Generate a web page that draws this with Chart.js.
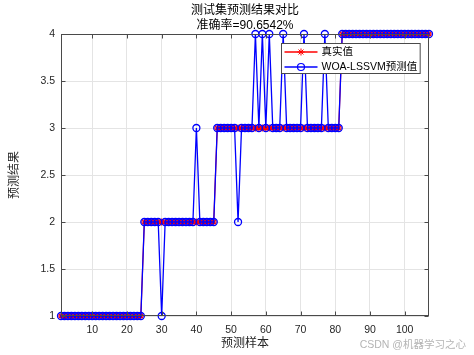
<!DOCTYPE html>
<html><head><meta charset="utf-8">
<script src="https://cdn.jsdelivr.net/npm/chart.js@4.4.1/dist/chart.umd.min.js"></script>
<style>html,body{margin:0;padding:0;background:#fff;}canvas{display:block;}</style>
</head><body>
<canvas id="c" width="474" height="355"></canvas>
<script>
const samples = [1,2,3,4,5,6,7,8,9,10,11,12,13,14,15,16,17,18,19,20,
  21,22,23,24,25,26,27,28,29,30,31,32,33,34,35,36,37,38,39,40,
  41,42,43,44,45,46,47,48,49,50,51,52,53,54,55,56,57,58,59,60,
  61,62,63,64,65,66,67,68,69,70,71,72,73,74,75,76,77,78,79,80,
  81,82,83,84,85,86,87,88,89,90,91,92,93,94,95,96,97,98,99,100,
  101,102,103,104,105,106,107];
const trueValues = [1,1,1,1,1,1,1,1,1,1,
  1,1,1,1,1,1,1,1,1,1,
  1,1,1,1,2,2,2,2,2,2,
  2,2,2,2,2,2,2,2,2,2,
  2,2,2,2,2,3,3,3,3,3,
  3,3,3,3,3,3,3,3,3,3,
  3,3,3,3,3,3,3,3,3,3,
  3,3,3,3,3,3,3,3,3,3,
  3,4,4,4,4,4,4,4,4,4,
  4,4,4,4,4,4,4,4,4,4,
  4,4,4,4,4,4,4];
const predValues = [1,1,1,1,1,1,1,1,1,1,
  1,1,1,1,1,1,1,1,1,1,
  1,1,1,1,2,2,2,2,2,1,
  2,2,2,2,2,2,2,2,2,3,
  2,2,2,2,2,3,3,3,3,3,
  3,2,3,3,3,3,4,3,4,3,
  4,3,3,3,4,3,3,3,3,3,
  4,3,3,3,3,3,4,3,3,3,
  3,4,4,4,4,4,4,4,4,4,
  4,4,4,4,4,4,4,4,4,4,
  4,4,4,4,4,4,4];
const xTicks = [10,20,30,40,50,60,70,80,90,100];
const yTicks = [1,1.5,2,2.5,3,3.5,4];
const yTickLabels = ['1','1.5','2','2.5','3','3.5','4'];
const titleLines = ['测试集预测结果对比', '准确率=90.6542%'];
const seriesNames = ['真实值', 'WOA-LSSVM预测值'];
const xLabel = '预测样本';
const yLabel = '预测结果';
const watermark = 'CSDN @机器学习之心';

const FONT = '"Liberation Sans", Arial, "Noto Sans CJK SC", sans-serif';
const RED = '#ff0000', BLUE = '#0000ff', AX = '#262626';

function drawStar(ctx, x, y, r) {
  ctx.beginPath();
  for (let k = 0; k < 4; k++) {
    const ang = k * Math.PI / 4;
    ctx.moveTo(x - r * Math.cos(ang), y - r * Math.sin(ang));
    ctx.lineTo(x + r * Math.cos(ang), y + r * Math.sin(ang));
  }
  ctx.stroke();
}

const deco = {
  id: 'deco',
  afterDraw(chart) {
    const ctx = chart.ctx, a = chart.chartArea, xs = chart.scales.x, ys = chart.scales.y;
    ctx.save();
    ctx.strokeStyle = '#4a4a4a'; ctx.lineWidth = 1;
    const L = Math.round(a.left) + 0.5, R = Math.round(a.right) - 0.5,
          T = Math.round(a.top) + 0.5, B = Math.round(a.bottom) - 0.5;
    ctx.strokeRect(L, T, R - L, B - T);
    ctx.beginPath();
    xTicks.forEach(v => {
      const p = Math.round(xs.getPixelForValue(v)) + 0.5;
      ctx.moveTo(p, B); ctx.lineTo(p, B - 4);
      ctx.moveTo(p, T); ctx.lineTo(p, T + 4);
    });
    yTicks.forEach(v => {
      const p = Math.round(ys.getPixelForValue(v)) + 0.5;
      ctx.moveTo(L, p); ctx.lineTo(L + 4, p);
      ctx.moveTo(R, p); ctx.lineTo(R - 4, p);
    });
    ctx.stroke();

    const cx = (a.left + a.right) / 2;
    ctx.fillStyle = '#000';
    ctx.textAlign = 'center'; ctx.textBaseline = 'middle';
    ctx.font = '12px ' + FONT;
    ctx.fillText(titleLines[0], cx, 11);
    ctx.fillText(titleLines[1], cx, 26);

    ctx.fillStyle = AX;
    ctx.font = '12px ' + FONT;
    ctx.fillText(xLabel, cx, 344);
    ctx.save();
    ctx.translate(15, (a.top + a.bottom) / 2);
    ctx.rotate(-Math.PI / 2);
    ctx.fillText(yLabel, 0, 0);
    ctx.restore();

    ctx.font = '10.5px ' + FONT;
    const tw = Math.max(...seriesNames.map(s => ctx.measureText(s).width));
    const bw = 3 + 33 + 4 + tw + 3, bh = 30;
    const bx = Math.round(a.right - 9 - bw) + 0.5, by = Math.round(a.top + 9) + 0.5;
    ctx.fillStyle = '#fff';
    ctx.fillRect(bx, by, bw, bh);
    ctx.strokeStyle = '#4a4a4a'; ctx.lineWidth = 1;
    ctx.strokeRect(bx, by, bw, bh);
    const rows = [by + 8.5, by + 23.5];
    const cols = [RED, BLUE];
    rows.forEach((ry, i) => {
      ctx.strokeStyle = cols[i]; ctx.lineWidth = 1.3;
      ctx.beginPath(); ctx.moveTo(bx + 3, ry); ctx.lineTo(bx + 36, ry); ctx.stroke();
      const mx = bx + 19.5;
      if (i === 0) { ctx.lineWidth = 1; drawStar(ctx, mx, ry, 3.5); }
      else { ctx.lineWidth = 1.2; ctx.beginPath(); ctx.arc(mx, ry, 3.5, 0, Math.PI * 2); ctx.stroke(); }
      ctx.fillStyle = '#000'; ctx.textAlign = 'left'; ctx.textBaseline = 'middle';
      ctx.fillText(seriesNames[i], bx + 40, ry);
    });

    ctx.font = '10.5px ' + FONT;
    ctx.fillStyle = '#b4b4b4'; ctx.textAlign = 'right';
    ctx.fillText(watermark, 466, 345);
    ctx.restore();
  }
};

new Chart(document.getElementById('c'), {
  type: 'line',
  data: {
    datasets: [
      {
        label: seriesNames[0],
        data: samples.map((s, i) => ({ x: s, y: trueValues[i] })),
        borderColor: RED, backgroundColor: RED, borderWidth: 1.2,
        pointStyle: 'star', pointRadius: 3.5, pointBorderColor: RED,
        pointBackgroundColor: RED, pointBorderWidth: 1.1, tension: 0, order: 2, clip: false
      },
      {
        label: seriesNames[1],
        data: samples.map((s, i) => ({ x: s, y: predValues[i] })),
        borderColor: BLUE, backgroundColor: 'rgba(0,0,0,0)', borderWidth: 1.3,
        pointStyle: 'circle', pointRadius: 3.5, pointBorderColor: BLUE,
        pointBackgroundColor: 'rgba(0,0,0,0)', pointBorderWidth: 1.3, tension: 0, order: 1, clip: false
      }
    ]
  },
  options: {
    responsive: false, animation: false, events: [],
    layout: { padding: { top: 34, right: 45, left: 0, bottom: 0 } },
    plugins: { legend: { display: false }, title: { display: false }, tooltip: { enabled: false } },
    scales: {
      x: {
        type: 'linear', min: 1, max: 107,
        afterBuildTicks: s => { s.ticks = xTicks.map(v => ({ value: v })); },
        afterFit: s => { s.height = 39; },
        grid: { color: '#e4e4e4', drawTicks: false },
        border: { display: false },
        ticks: { padding: 8, color: AX, font: { family: FONT, size: 10.5 }, maxRotation: 0, autoSkip: false,
                 callback: v => String(v) }
      },
      y: {
        type: 'linear', min: 1, max: 4,
        afterBuildTicks: s => { s.ticks = yTicks.map(v => ({ value: v })); },
        afterFit: s => { s.width = 61; },
        grid: { color: '#e4e4e4', drawTicks: false },
        border: { display: false },
        ticks: { padding: 6, color: AX, font: { family: FONT, size: 10.5 }, autoSkip: false,
                 callback: (v) => yTickLabels[yTicks.indexOf(v)] ?? String(v) }
      }
    }
  },
  plugins: [deco]
});
</script>
</body></html>
